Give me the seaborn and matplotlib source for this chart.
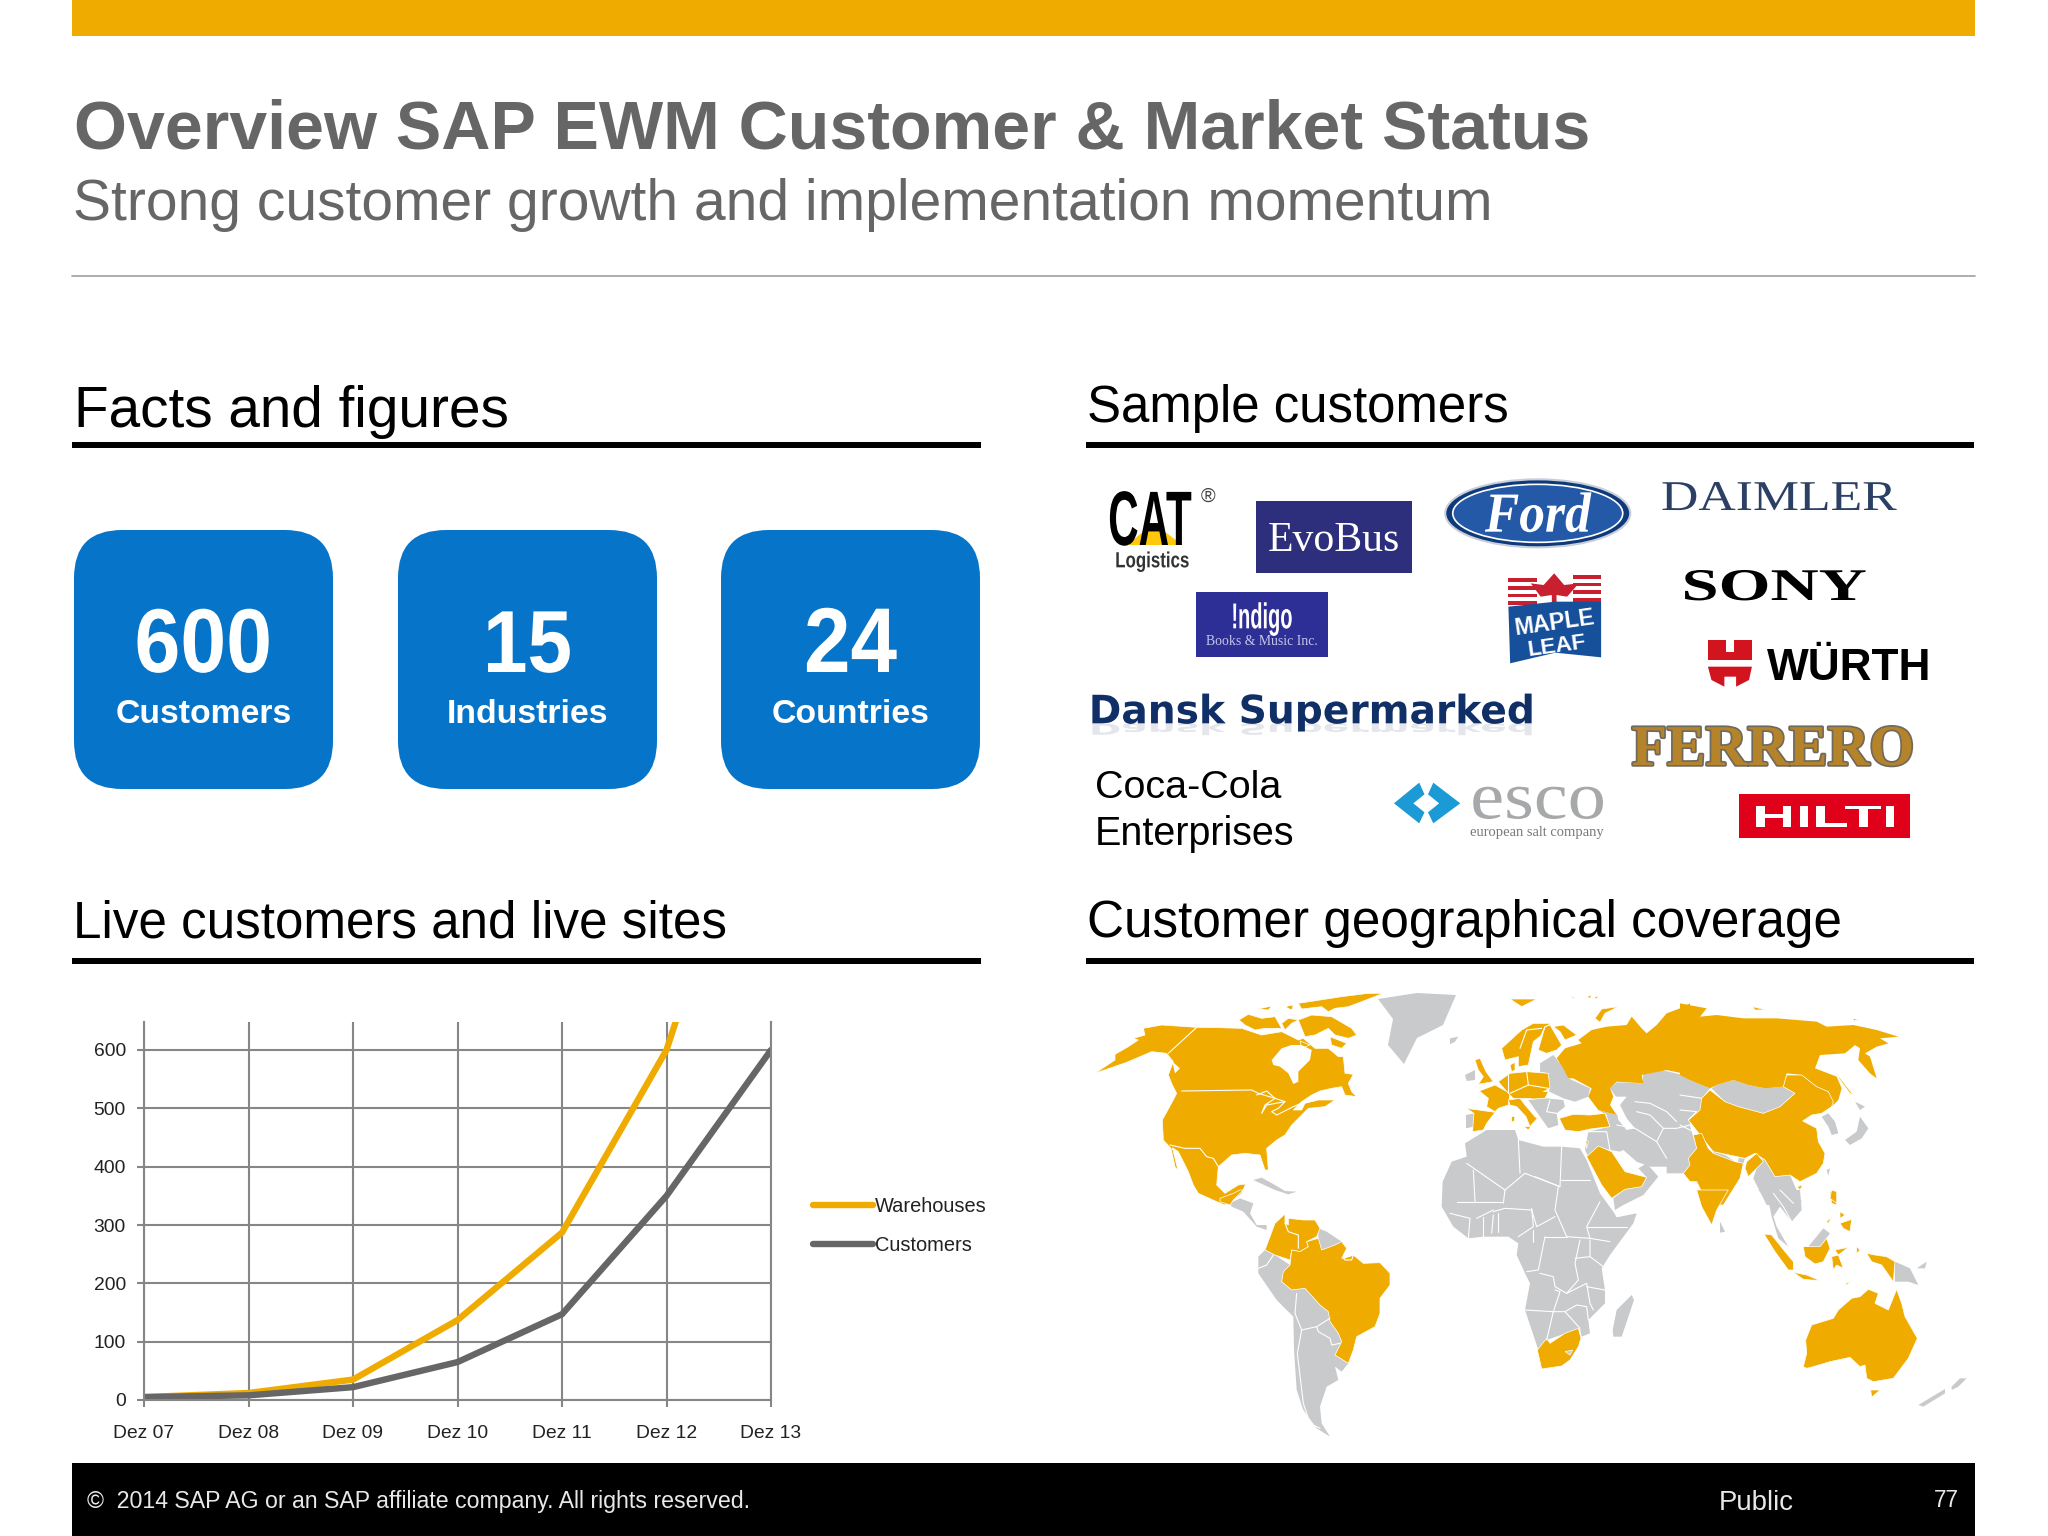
import matplotlib
matplotlib.use("Agg")
import matplotlib.pyplot as plt
import matplotlib.patheffects as pe
from matplotlib.patches import Rectangle, FancyBboxPatch, Polygon, Ellipse
from matplotlib.transforms import Affine2D
import pandas as pd
import seaborn as sns

# chart data
months = ["Dez 07", "Dez 08", "Dez 09", "Dez 10", "Dez 11", "Dez 12", "Dez 13"]
warehouses = [5, 12, 35, 137, 287, 600, 1150]
customers = [5, 8, 22, 65, 147, 350, 600]
y_ticks = [0, 100, 200, 300, 400, 500, 600]

# tiles
tile_numbers = ["600", "15", "24"]
tile_labels = ["Customers", "Industries", "Countries"]

ORANGE = "#F0AB00"
DARK = "#666666"
BLUE = "#0674C8"
MAP_GREY = "#C9CACC"


def shift(ox, oy, shapes):
    # outlines were traced on 3x crops of the reference
    return [[(ox + a / 3, oy + b / 3) for a, b in s] for s in shapes]


# north america crop
na = (1085, 985)
na_orange = [
    [(30,265),(90,225),(90,208),(130,185),(160,165),(145,160),(180,150),(175,130),(230,120),(335,127),(400,128),(470,130),
     (530,150),(590,140),(640,165),(655,160),(690,190),(730,190),(760,215),(775,215),(780,265),(805,268),(790,295),(800,320),
     (815,335),(780,330),(770,305),(740,310),(705,318),(680,330),(650,350),(625,375),(650,375),(660,355),(700,345),(750,345),
     (720,365),(670,370),(640,400),(620,420),(600,450),(575,465),(545,490),(550,555),(540,555),(525,510),(480,505),(440,510),
     (400,545),(395,600),(420,625),(460,600),(482,597),(470,625),(440,650),(420,660),(395,650),(340,625),(325,600),(310,560),
     (280,500),(262,488),(280,560),(295,580),(270,545),(258,490),(235,465),(232,405),(265,345),(275,325),(262,300),(250,270),
     (265,230),(245,205),(200,200),(165,215),(125,232)],
    [(462,105),(490,88),(530,100),(570,95),(590,130),(540,130),(510,135),(480,120)],
    [(520,72),(560,63),(550,75)],
    [(610,100),(640,105),(620,115),(600,135),(590,115)],
    [(640,105),(680,90),(740,95),(800,130),(815,150),(790,160),(750,150),(730,130),(690,150),(660,155)],
    [(735,155),(785,175),(770,190),(740,180)],
    [(645,168),(675,180),(650,190)],
    [(705,45),(770,35),(850,25),(895,25),(830,50),(790,65),(750,70),(730,80),(710,65),(650,72),(640,55)],
    [(600,65),(625,60),(620,75)],
]
na_grey = [
    [(505,585),(530,578),(570,600),(600,618),(635,620),(610,628),(570,615)],
    [(879,42),(996,24),(1113,30),(1074,120),(996,159),(957,237),(909,180),(924,102)],
]
na_holes = [
    [(560,225),(590,190),(620,180),(650,180),(680,195),(675,225),(640,260),(640,290),(625,297),(610,265),(585,245),(565,240)],
    [(262,230),(285,250),(270,265)],
]
na_borders = [
    [(250,205),(335,127)],
    [(290,318),(500,315),(520,325),(570,340),(600,350),(580,370),(560,380),(575,390),(625,365),(660,350),(700,335)],
    [(515,330),(545,318),(570,340),(540,360),(530,385),(545,360),(600,350)],
    [(255,480),(300,490),(345,490),(365,515),(385,520),(400,545)],
]

# europe and near east crop
eu = (1450, 985)
eu_russia = [
    [(320,220),(345,190),(395,175),(385,165),(425,135),(470,125),(530,120),(545,95),(575,130),(590,145),(620,120),(650,85),
     (690,70),(720,55),(720,270),(650,255),(575,270),(580,295),(500,290),(480,310),(490,335),(480,360),(500,390),(445,375),
     (415,335),(425,310),(370,280),(355,280),(340,250)],
]
eu_orange = [
    [(180,42),(260,42),(215,65)],
    [(362,35),(380,38),(370,40)], [(410,35),(425,30),(420,40)], [(432,38),(445,32),(440,42)],
    [(435,100),(455,72),(505,65),(465,85),(450,112)],
    [(265,195),(285,125),(300,120),(335,180),(320,195),(290,205)],
    [(310,125),(340,120),(380,150),(345,165),(330,140)],
    [(155,190),(215,135),(250,115),(305,115),(285,125),(275,150),(250,170),(235,240),(205,245),(205,215),(165,225)],
    [(180,240),(195,232),(195,255),(185,260)],
    [(75,225),(90,220),(108,260),(130,290),(85,298),(100,275),(85,255)],
    [(88,318),(135,300),(180,325),(175,360),(145,370),(135,380),(110,365),(115,340)],
    [(145,290),(180,265),(230,260),(295,265),(300,310),(280,320),(295,320),(285,340),(250,342),(235,340),(190,340),(175,325)],
    [(175,345),(210,340),(225,360),(255,395),(262,400),(248,415),(240,425),(228,395),(200,365),(180,360)],
    [(222,425),(242,425),(235,435)],
    [(185,395),(195,395),(192,410),(185,410)],
    [(50,370),(135,382),(110,415),(100,435),(68,440),(70,405),(72,385)],
    [(328,400),(370,388),(420,390),(465,385),(480,425),(420,432),(385,440),(345,435)],
    [(408,465),(415,470),(410,490)],
]
eu_grey = [
    [(45,270),(75,255),(75,285),(50,288)],
    [(0,160),(25,155),(15,170),(0,178)],
    [(48,390),(72,385),(70,425),(48,430)],
    [(270,235),(310,210),(325,230),(345,250),(355,280),(420,310),(415,335),(375,350),(340,340),(298,320),(295,265),(270,260)],
    [(235,345),(290,340),(340,345),(345,365),(320,385),(325,420),(295,430),(270,395)],
    [(480,310),(500,292),(578,295),(580,268),(635,255),(720,275),(720,545),(600,545),(560,530),(520,495),(510,500),(480,495),
     (445,485),(415,515),(405,495),(415,440),(480,425),(470,390),(445,375),(500,390),(505,345)],
]
eu_holes = [
    [(495,335),(530,335),(510,360),(530,400),(555,430),(530,435),(505,405),(500,380)],
]
eu_borders = [
    [(555,350),(600,355),(650,380),(680,410)],
    [(560,380),(600,390),(640,430),(620,470),(650,520)],
    [(500,420),(555,430),(620,470)],
    [(720,420),(680,430),(640,430)],
    [(175,265),(175,325)],
    [(230,260),(235,300),(180,325)],
    [(235,300),(295,310)],
    [(210,190),(230,135),(275,130)],
    [(285,125),(270,160)],
    [(300,345),(290,380),(320,385)],
    [(415,440),(470,440),(480,495)],
]

# east asia crop
ea = (1680, 985)
ea_russia = [
    [(0,55),(80,70),(60,95),(110,90),(190,100),(290,100),(410,110),(440,125),(520,120),(590,135),(655,155),(600,160),(625,175),
     (590,185),(555,205),(570,215),(590,280),(570,265),(535,225),(540,190),(525,180),(495,205),(420,210),(405,250),(470,275),
     (485,310),(475,345),(455,365),(445,320),(410,305),(365,270),(320,265),(310,305),(255,310),(205,300),(160,285),(110,300),
     (90,310),(40,290),(0,270)],
]
ea_orange = [
    [(465,260),(520,330),(510,325),(480,285)],
    [(218,65),(260,75),(225,75)],
    [(520,100),(535,105),(520,107)],
    [(90,315),(135,350),(175,365),(250,385),(300,365),(345,325),(310,305),(320,270),(365,270),(410,305),(445,320),(460,350),
     (455,365),(425,385),(395,390),(368,408),(410,430),(415,470),(435,505),(430,535),(410,565),(360,590),(330,570),(285,575),
     (255,525),(225,505),(195,520),(100,500),(80,475),(25,405),(60,375),(65,340)],
    [(352,605),(368,600),(360,615)],
    [(450,620),(470,620),(470,660),(455,655)],
    [(40,450),(65,445),(85,490),(100,505),(165,530),(190,535),(180,580),(130,660),(85,660),(50,590),(30,590),(10,565),(30,540),
     (25,520),(50,490)],
    [(200,530),(230,505),(250,530),(205,575),(195,550)],
]
ea_grey = [
    [(95,310),(110,300),(160,285),(205,300),(255,310),(310,305),(345,325),(300,365),(250,385),(175,365),(135,350)],
    [(-40,262),(0,270),(40,290),(90,310),(65,340),(60,375),(25,405),(50,490),(25,520),(30,540),(10,565),(-40,565)],
    [(425,395),(445,385),(465,410),(475,445),(455,450),(445,425)],
    [(525,350),(555,365),(540,375)],
    [(540,395),(565,430),(545,460),(510,480),(495,465),(530,440)],
    [(440,555),(450,550),(445,572)],
    [(240,520),(255,525),(285,575),(330,570),(365,650),(350,660),(260,660),(220,580)],
    [(100,500),(135,510),(165,530),(135,530),(105,520)],
    [(175,520),(195,520),(190,535),(175,535)],
]
ea_borders = [
    [(0,375),(50,380),(25,405)],
    [(0,420),(40,440),(40,450)],
    [(0,330),(65,340)],
]

# south east asia and australia crop
au = (1660, 1190)
au_orange = [
    [(110,0),(205,0),(170,60),(155,105),(125,50)],
    [(312,132),(335,135),(375,185),(400,215),(400,240),(385,240),(345,185)],
    [(400,247),(440,255),(480,272),(430,268)],
    [(430,170),(480,170),(500,145),(510,175),(490,215),(465,222),(435,200)],
    [(515,200),(535,195),(550,235),(530,225),(520,240)],
    [(525,180),(565,172),(535,195)],
    [(620,190),(645,195),(680,200),(705,215),(700,275),(665,225),(635,215)],
    [(515,0),(530,5),(530,40),(510,25)],
    [(540,100),(575,88),(570,125),(550,115)],
    [(500,95),(515,80),(505,100)],
    [(540,65),(555,75),(540,85)],
    [(555,282),(575,272),(560,285)],
    [(590,170),(600,180),(590,190)],
    [(430,530),(440,490),(437,450),(455,405),(520,385),(535,360),(575,325),(600,320),(625,298),(655,310),(645,340),(685,360),
     (710,298),(725,340),(735,380),(772,445),(745,505),(700,565),(640,575),(620,565),(615,525),(600,530),(570,502),(510,515),
     (460,530),(440,535)],
    [(632,600),(660,600),(635,622)],
]
au_grey = [
    [(295,0),(420,0),(425,60),(395,95),(360,50),(340,80),(350,110),(385,170),(355,145),(335,80),(325,30)],
    [(180,95),(195,125),(180,128)],
    [(445,170),(490,115),(510,130),(480,170),(450,178)],
    [(705,215),(750,235),(775,285),(745,275),(705,275)],
    [(770,235),(800,215),(795,235)],
    [(775,645),(855,597),(855,610),(790,650)],
    [(875,590),(900,565),(920,565),(895,590),(875,600)],
]
au_borders = [
    [(340,10),(370,50),(395,95)],
    [(360,0),(400,40)],
]

# africa crop
af = (1430, 1130)
af_grey = [
    [(38,155),(65,95),(110,80),(105,40),(170,0),(255,0),(265,30),(340,50),(395,50),(450,55),(470,90),(510,190),(550,245),(560,262),
     (620,250),(610,280),(540,375),(515,415),(525,480),(525,520),(475,570),(480,610),(455,620),(450,595),(350,630),(325,660),
     (285,540),(300,460),(285,430),(260,375),(265,340),(235,320),(160,320),(115,325),(70,290),(35,230)],
    [(605,495),(612,510),(575,620),(550,620),(548,600),(560,540)],
    [(550,205),(585,178),(635,170),(650,142),(625,115),(650,100),(685,140),(640,195),(580,225),(555,240)],
]
af_orange = [
    [(322,660),(350,625),(360,640),(405,610),(445,595),(453,625),(445,650),(420,690),(395,708),(335,717)],
    [(470,80),(505,48),(545,65),(585,125),(650,142),(635,170),(585,178),(545,205),(515,165)],
]
af_grey_top = [
    [(405,665),(428,660),(420,675)],
]
af_borders = [
    [(110,100),(225,180),(285,130)], [(225,180),(220,220)], [(130,120),(135,215)], [(80,215),(220,215)],
    [(315,140),(390,170),(395,50)], [(285,130),(390,170)], [(265,30),(270,130)], [(390,150),(480,150)],
    [(385,170),(375,240),(410,320)], [(375,260),(320,290),(305,240)], [(305,240),(225,235),(190,245)],
    [(305,235),(310,290),(265,320)], [(310,300),(310,335)], [(410,320),(480,325),(540,335)],
    [(480,325),(470,290),(510,215)], [(470,290),(590,290)], [(345,320),(410,320)], [(345,320),(325,420),(290,425)],
    [(450,330),(435,400),(445,450),(410,490),(375,470),(370,440),(330,430)], [(480,330),(480,380),(520,410)],
    [(435,385),(480,380)], [(375,480),(390,485),(370,545),(285,540)], [(370,545),(350,630)], [(370,545),(405,545),(450,595)],
    [(410,490),(470,460),(480,520),(490,540)], [(470,470),(525,480)], [(405,545),(440,525),(470,530),(475,570)],
    [(60,250),(120,265),(115,325)], [(140,265),(190,240)], [(160,260),(160,320)], [(190,255),(185,310)], [(205,250),(205,305)],
]

# south america crop
sa = (1220, 1190)
sa_orange = [
    [(0,25),(40,10),(60,0),(70,0),(40,30),(30,45),(0,35)],
    [(135,180),(165,100),(195,72),(195,100),(205,105),(205,85),(250,90),(285,90),(300,115),(290,140),(260,155),(265,170),(240,185),
     (215,180),(210,210),(165,195)],
    [(215,180),(240,185),(265,170),(260,155),(295,145),(305,180),(345,165),(365,155),(380,175),(365,205),(400,195),(430,220),(480,218),
     (510,250),(510,285),(480,325),(480,370),(465,410),(410,440),(400,480),(385,520),(345,495),(365,455),(355,430),(330,395),(325,365),
     (300,345),(255,295),(215,300),(185,275),(190,245),(210,225)],
]
sa_grey = [
    [(30,40),(60,25),(100,40),(90,70),(110,105),(140,105),(140,120),(110,110),(70,65),(35,50)],
    [(295,115),(320,125),(365,155),(340,170),(305,180),(295,145)],
    [(115,200),(135,180),(165,195),(210,225),(190,245),(185,275),(215,300),(255,295),(300,345),(325,365),(330,395),(355,430),(365,455),
     (345,495),(385,520),(365,545),(345,530),(355,570),(320,590),(300,650),(305,700),(330,740),(290,715),(250,660),(230,600),(222,480),
     (220,380),(170,330),(115,250)],
]
sa_borders = [
    [(230,310),(225,370),(245,420),(290,410),(330,385)],
    [(245,420),(232,490),(250,640),(270,700),(300,715)],
    [(290,410),(295,425),(330,445),(335,465),(360,460)],
    [(160,195),(140,225),(115,235)],
    [(195,100),(205,125),(235,135),(235,175)],
    [(370,205),(400,195),(395,210),(375,210),(370,205)],
]

map_grey = (shift(*na, na_grey) + shift(*eu, eu_grey) + shift(*ea, ea_grey) + shift(*au, au_grey)
            + shift(*af, af_grey) + shift(*sa, sa_grey))
map_russia = shift(*eu, eu_russia) + shift(*ea, ea_russia)
map_orange = (shift(*na, na_orange) + shift(*eu, eu_orange) + shift(*ea, ea_orange) + shift(*au, au_orange)
              + shift(*af, af_orange) + shift(*sa, sa_orange))
map_holes = shift(*na, na_holes) + shift(*eu, eu_holes)
map_borders = (shift(*na, na_borders) + shift(*eu, eu_borders) + shift(*ea, ea_borders) + shift(*au, au_borders)
               + shift(*af, af_borders) + shift(*sa, sa_borders))


def logo_x(zx):
    return 1080 + zx / 1.704


def logo_y(zy):
    return 460 + zy / 3


class Stretch(pe.AbstractPathEffect):
    # squeeze or stretch a text around its baseline, logos are not set in normal proportions
    def __init__(self, sy, face=None):
        super().__init__()
        self.sy = sy
        self.face = face

    def draw_path(self, renderer, gc, tpath, affine, rgbFace=None):
        face = rgbFace if self.face is None else matplotlib.colors.to_rgb(self.face)
        renderer.draw_path(gc, tpath, Affine2D().scale(1, self.sy) + affine, face)


sns.set_theme(style="white")
plt.rcParams["font.family"] = ["Liberation Sans", "DejaVu Sans"]

fig = plt.figure(figsize=(20.48, 15.36), dpi=100)
page = fig.add_axes([0, 0, 1, 1])
page.set_xlim(0, 2048)
page.set_ylim(1536, 0)
page.axis("off")
renderer = fig.canvas.get_renderer()


def fit_text(x0, x1, base, s, sy=None, **kw):
    # scale the font so the text spans x0..x1 in pixels
    t = page.text(x0, base, s, ha="left", va="baseline", fontsize=20, **kw)
    w = t.get_window_extent(renderer).width
    t.set_fontsize(20 * (x1 - x0) / w)
    if sy is not None:
        t.set_path_effects([Stretch(sy)])
    return t


def logo_text(zx0, zx1, zbase, s, sy=None, **kw):
    return fit_text(logo_x(zx0), logo_x(zx1), logo_y(zbase), s, sy=sy, **kw)


def logo_rect(zx0, zy0, zx1, zy1, color, **kw):
    page.add_patch(Rectangle((logo_x(zx0), logo_y(zy0)), (zx1 - zx0) / 1.704, (zy1 - zy0) / 3,
                             facecolor=color, edgecolor="none", **kw))


def logo_poly(points, color):
    page.add_patch(Polygon([(logo_x(a), logo_y(b)) for a, b in points], closed=True,
                           facecolor=color, edgecolor="none"))


# slide frame
page.add_patch(Rectangle((72, 0), 1903, 36, facecolor=ORANGE, edgecolor="none"))
fit_text(74, 1591, 148.5, "Overview SAP EWM Customer & Market Status", color=DARK, fontweight="bold")
fit_text(73, 1488, 219.5, "Strong customer growth and implementation momentum", color=DARK)
page.plot([72, 1975], [275.5, 275.5], color="#A0A0A0", lw=1.2)
page.add_patch(Rectangle((72, 1463), 1903, 73, facecolor="black", edgecolor="none"))
fit_text(87, 751, 1508, "©  2014 SAP AG or an SAP affiliate company. All rights reserved.", color="#E8E8E8")
fit_text(1719, 1794, 1510, "Public", color="#E8E8E8")
fit_text(1934, 1959, 1507, "77", color="#E8E8E8")

# section headers
fit_text(74, 508, 427, "Facts and figures", color="black")
fit_text(1087, 1508, 422, "Sample customers", color="black")
fit_text(73, 725, 937.5, "Live customers and live sites", color="black")
fit_text(1087, 1839, 937.5, "Customer geographical coverage", color="black")
for ry in [441.5, 957.5]:
    page.add_patch(Rectangle((72, ry), 909, 6.5, facecolor="black", edgecolor="none"))
    page.add_patch(Rectangle((1086, ry), 888, 6.5, facecolor="black", edgecolor="none"))

# tiles
tile_x = [74, 398, 721]
num_w = [138, 89, 93]
lab_w = [176, 162, 158]
for tx, num, lab, nw, lw_ in zip(tile_x, tile_numbers, tile_labels, num_w, lab_w):
    page.add_patch(FancyBboxPatch((tx + 48, 578), 163, 163, boxstyle="round,pad=48,rounding_size=48",
                                  facecolor=BLUE, edgecolor="none"))
    cx = tx + 129.5
    fit_text(cx - nw / 2, cx + nw / 2, 672, num, sy=1.1, color="white", fontweight="bold")
    fit_text(cx - lw_ / 2, cx + lw_ / 2, 723, lab, color="white", fontweight="bold")

# world map
for shape in map_grey:
    page.add_patch(Polygon(shape, closed=True, facecolor=MAP_GREY, edgecolor="none"))
for shape in map_russia:
    page.add_patch(Polygon(shape, closed=True, facecolor=ORANGE, edgecolor="none"))
for shape in map_orange:
    page.add_patch(Polygon(shape, closed=True, facecolor=ORANGE, edgecolor="white", lw=0.5))
for shape in shift(*af, af_grey_top):
    page.add_patch(Polygon(shape, closed=True, facecolor=MAP_GREY, edgecolor="white", lw=0.5))
for shape in map_holes:
    page.add_patch(Polygon(shape, closed=True, facecolor="white", edgecolor="none"))
for line in map_borders:
    page.plot([a for a, b in line], [b for a, b in line], color="white", lw=0.8)

# logos
serif = ["Liberation Serif", "DejaVu Serif"]
logo_text(48, 190, 255, "CAT", sy=1.83, color="black", fontweight="bold")
logo_poly([(80, 255), (125, 190), (175, 255)], "#FFC90B")
logo_text(205, 230, 125, "®", color="#444444")
logo_text(60, 186, 322, "Logistics", sy=1.3, color="#333333", fontweight="bold")

logo_rect(300, 122, 565, 338, "#2E2F7C")
t = logo_text(320, 545, 272, "EvoBus", color="white", family=serif)

logo_rect(198, 396, 422, 592, "#2E2F96")
logo_text(258, 362, 505, "!ndigo", sy=1.8, color="white", fontweight="bold")
logo_text(215, 405, 556, "Books & Music Inc.", color="#C4C6E6", family=serif)

page.add_patch(Ellipse((logo_x(780), logo_y(160)), 185, 68, facecolor="#0F3A7A", edgecolor="#C8CEDA", lw=1.5))
page.add_patch(Ellipse((logo_x(780), logo_y(160)), 170, 58, facecolor="#2459A8", edgecolor="white", lw=1.2))
logo_text(690, 870, 215, "Ford", sy=1.1, color="white", fontweight="bold", fontstyle="italic", family=serif)

logo_text(990, 1392, 150, "DAIMLER", sy=0.82, color="#2C4066", family=serif)
logo_text(1025, 1340, 420, "SONY", sy=0.68, color="black", fontweight="bold", family=serif)

# maple leaf flag
for zy in [355, 378, 401, 424]:
    logo_rect(730, zy, 778, zy + 11, "#C8202F")
    logo_rect(840, zy - 10, 888, zy + 1, "#C8202F")
logo_poly([(808, 340), (825, 375), (850, 370), (830, 410), (812, 405), (812, 430), (804, 430), (804, 405),
           (785, 410), (768, 370), (790, 375)], "#C8202F")
logo_poly([(730, 440), (810, 425), (888, 425), (888, 592), (810, 578), (733, 610)], "#17509A")
t = logo_text(742, 880, 525, "MAPLE", color="white", fontweight="bold")
t.set_rotation(8)
t.set_rotation_mode("anchor")
t = logo_text(765, 865, 588, "LEAF", color="white", fontweight="bold")
t.set_rotation(8)
t.set_rotation_mode("anchor")

# wuerth shield
logo_poly([(1070, 540), (1100, 540), (1100, 575), (1115, 575), (1115, 540), (1145, 540), (1145, 600), (1070, 600)], "#D2141E")
logo_poly([(1070, 620), (1145, 620), (1140, 660), (1118, 680), (1118, 650), (1098, 650), (1098, 680), (1076, 660)], "#D2141E")
logo_text(1170, 1450, 660, "WÜRTH", color="black", fontweight="bold")

t = logo_text(15, 775, 790, "Dansk Supermarked", color="#0F2F66", fontweight="bold", family=["DejaVu Sans"])
t.set_path_effects([Stretch(-0.4, face="#E4E6EB"), Stretch(1.0)])
t = logo_text(940, 1420, 915, "FERRERO", color="#B5832A", fontweight="bold", family=serif)
t.set_path_effects([pe.withStroke(linewidth=2.5, foreground="#6F6A5E")])
logo_text(25, 342, 1015, "Coca-Cola", color="black")
logo_text(25, 365, 1155, "Enterprises", color="black")

logo_poly([(535, 1030), (578, 968), (587, 1003), (568, 1030), (587, 1057), (578, 1090)], "#1B9AD6")
logo_poly([(648, 1030), (602, 968), (593, 1003), (612, 1030), (593, 1057), (602, 1090)], "#1B9AD6")
logo_text(665, 895, 1075, "esco", sy=0.88, color="#A6A8AA", family=serif)
logo_text(665, 892, 1128, "european salt company", color="#777777", family=serif)

logo_rect(1123, 1003, 1414, 1133, "#E1001A")
logo_text(1145, 1395, 1100, "HILTI", sy=0.5, color="white", fontweight="bold")

# line chart
df = pd.DataFrame({
    "month": months * 2,
    "value": warehouses + customers,
    "series": ["Warehouses"] * len(months) + ["Customers"] * len(months),
})
ax = fig.add_axes([144 / 2048, 1 - 1400 / 1536, 627 / 2048, 378 / 1536])
ax.patch.set_alpha(0)
sns.lineplot(data=df, x="month", y="value", hue="series", palette={"Warehouses": ORANGE, "Customers": DARK},
             linewidth=4.6, ax=ax)
ax.set_xlim(0, 6)
ax.set_ylim(0, 648)
ax.set_yticks(y_ticks)
ax.set_xlabel("")
ax.set_ylabel("")
ax.grid(True, color="#868686", linewidth=1.5)
ax.set_axisbelow(True)
ax.tick_params(axis="both", length=5, width=1.5, color="#868686", labelsize=13.9, labelcolor="#222222", left=True, bottom=True)
ax.tick_params(axis="x", pad=13)
ax.tick_params(axis="y", pad=8)
for side in ["left", "bottom", "right"]:
    ax.spines[side].set_color("#868686")
    ax.spines[side].set_linewidth(1.5)
ax.spines["top"].set_visible(False)

handles, labels = ax.get_legend_handles_labels()
ax.legend(handles, labels, loc="upper left", bbox_to_anchor=(813 / 2048, 1 - 1197 / 1536),
          bbox_transform=fig.transFigure, frameon=False, fontsize=14.4, handlelength=3.0,
          handletextpad=0.1, labelspacing=1.0, borderpad=0, borderaxespad=0, labelcolor="#222222")

fig.savefig("out.png", dpi=100)
